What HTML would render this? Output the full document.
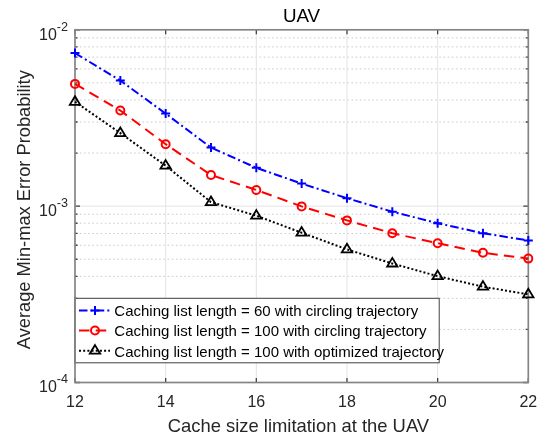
<!DOCTYPE html>
<html><head><meta charset="utf-8"><title>UAV</title>
<style>
html,body{margin:0;padding:0;background:#fff;}
svg{display:block;}
text{font-family:"Liberation Sans",Arial,Helvetica,sans-serif;fill:#262626;}
</style></head><body>
<svg width="550" height="439" viewBox="0 0 550 439">
<rect x="0" y="0" width="550" height="439" fill="#fff"/>
<path d="M75.6 153.06H527.80 M75.6 122.01H527.80 M75.6 99.98H527.80 M75.6 82.89H527.80 M75.6 68.92H527.80 M75.6 57.12H527.80 M75.6 46.89H527.80 M75.6 37.87H527.80 M75.6 329.41H527.80 M75.6 298.36H527.80 M75.6 276.33H527.80 M75.6 259.24H527.80 M75.6 245.27H527.80 M75.6 233.47H527.80 M75.6 223.24H527.80 M75.6 214.22H527.80" stroke="#cccccc" stroke-width="1" stroke-dasharray="1.6 2.58" fill="none"/>
<path d="M75.00 206.15H528.30 M165.66 29.80V382.50 M256.32 29.80V382.50 M346.98 29.80V382.50 M437.64 29.80V382.50" stroke="#e3e3e3" stroke-width="1" fill="none"/>
<path d="M75.00 382.50V378.00 M75.00 29.80V34.30 M165.66 382.50V378.00 M165.66 29.80V34.30 M256.32 382.50V378.00 M256.32 29.80V34.30 M346.98 382.50V378.00 M346.98 29.80V34.30 M437.64 382.50V378.00 M437.64 29.80V34.30 M528.30 382.50V378.00 M528.30 29.80V34.30 M75.00 29.80H80.00 M528.30 29.80H523.30 M75.00 206.15H80.00 M528.30 206.15H523.30 M75.00 382.50H80.00 M528.30 382.50H523.30 M75.00 153.06H77.60 M528.30 153.06H525.70 M75.00 122.01H77.60 M528.30 122.01H525.70 M75.00 99.98H77.60 M528.30 99.98H525.70 M75.00 82.89H77.60 M528.30 82.89H525.70 M75.00 68.92H77.60 M528.30 68.92H525.70 M75.00 57.12H77.60 M528.30 57.12H525.70 M75.00 46.89H77.60 M528.30 46.89H525.70 M75.00 37.87H77.60 M528.30 37.87H525.70 M75.00 329.41H77.60 M528.30 329.41H525.70 M75.00 298.36H77.60 M528.30 298.36H525.70 M75.00 276.33H77.60 M528.30 276.33H525.70 M75.00 259.24H77.60 M528.30 259.24H525.70 M75.00 245.27H77.60 M528.30 245.27H525.70 M75.00 233.47H77.60 M528.30 233.47H525.70 M75.00 223.24H77.60 M528.30 223.24H525.70 M75.00 214.22H77.60 M528.30 214.22H525.70" stroke="#404040" stroke-width="1.3" fill="none"/>
<rect x="75.00" y="29.80" width="453.30" height="352.70" fill="none" stroke="#858585" stroke-width="1.7"/>
<polyline points="75.00,53.10 120.33,80.50 165.66,113.60 210.99,147.60 256.32,167.80 301.65,183.60 346.98,198.20 392.31,211.70 437.64,223.20 482.97,233.20 528.30,240.50" fill="none" stroke="#0000ff" stroke-width="2" stroke-dasharray="8.5 3.1 2 3.12" stroke-linejoin="round"/>
<polyline points="75.00,83.90 120.33,110.50 165.66,144.20 210.99,175.00 256.32,190.00 301.65,206.40 346.98,220.40 392.31,233.20 437.64,243.20 482.97,252.80 528.30,258.60" fill="none" stroke="#ff0000" stroke-width="2" stroke-dasharray="10.5 6.22" stroke-linejoin="round"/>
<polyline points="75.00,101.80 120.33,133.10 165.66,165.70 210.99,202.10 256.32,215.70 301.65,232.70 346.98,249.40 392.31,263.50 437.64,276.20 482.97,286.70 528.30,294.40" fill="none" stroke="#000000" stroke-width="2" stroke-dasharray="2 2.18" stroke-linejoin="round"/>
<path d="M70.50 53.10H79.50M75.00 48.60V57.60" stroke="#0000ff" stroke-width="2" fill="none"/><path d="M115.83 80.50H124.83M120.33 76.00V85.00" stroke="#0000ff" stroke-width="2" fill="none"/><path d="M161.16 113.60H170.16M165.66 109.10V118.10" stroke="#0000ff" stroke-width="2" fill="none"/><path d="M206.49 147.60H215.49M210.99 143.10V152.10" stroke="#0000ff" stroke-width="2" fill="none"/><path d="M251.82 167.80H260.82M256.32 163.30V172.30" stroke="#0000ff" stroke-width="2" fill="none"/><path d="M297.15 183.60H306.15M301.65 179.10V188.10" stroke="#0000ff" stroke-width="2" fill="none"/><path d="M342.48 198.20H351.48M346.98 193.70V202.70" stroke="#0000ff" stroke-width="2" fill="none"/><path d="M387.81 211.70H396.81M392.31 207.20V216.20" stroke="#0000ff" stroke-width="2" fill="none"/><path d="M433.14 223.20H442.14M437.64 218.70V227.70" stroke="#0000ff" stroke-width="2" fill="none"/><path d="M478.47 233.20H487.47M482.97 228.70V237.70" stroke="#0000ff" stroke-width="2" fill="none"/><path d="M523.80 240.50H532.80M528.30 236.00V245.00" stroke="#0000ff" stroke-width="2" fill="none"/>
<circle cx="75.00" cy="83.90" r="4.0" stroke="#ff0000" stroke-width="2" fill="none"/><circle cx="120.33" cy="110.50" r="4.0" stroke="#ff0000" stroke-width="2" fill="none"/><circle cx="165.66" cy="144.20" r="4.0" stroke="#ff0000" stroke-width="2" fill="none"/><circle cx="210.99" cy="175.00" r="4.0" stroke="#ff0000" stroke-width="2" fill="none"/><circle cx="256.32" cy="190.00" r="4.0" stroke="#ff0000" stroke-width="2" fill="none"/><circle cx="301.65" cy="206.40" r="4.0" stroke="#ff0000" stroke-width="2" fill="none"/><circle cx="346.98" cy="220.40" r="4.0" stroke="#ff0000" stroke-width="2" fill="none"/><circle cx="392.31" cy="233.20" r="4.0" stroke="#ff0000" stroke-width="2" fill="none"/><circle cx="437.64" cy="243.20" r="4.0" stroke="#ff0000" stroke-width="2" fill="none"/><circle cx="482.97" cy="252.80" r="4.0" stroke="#ff0000" stroke-width="2" fill="none"/><circle cx="528.30" cy="258.60" r="4.0" stroke="#ff0000" stroke-width="2" fill="none"/>
<path d="M75.00 96.20L80.20 104.80L69.80 104.80Z" stroke="#000000" stroke-width="1.8" fill="none" stroke-linejoin="miter"/><path d="M120.33 127.50L125.53 136.10L115.13 136.10Z" stroke="#000000" stroke-width="1.8" fill="none" stroke-linejoin="miter"/><path d="M165.66 160.10L170.86 168.70L160.46 168.70Z" stroke="#000000" stroke-width="1.8" fill="none" stroke-linejoin="miter"/><path d="M210.99 196.50L216.19 205.10L205.79 205.10Z" stroke="#000000" stroke-width="1.8" fill="none" stroke-linejoin="miter"/><path d="M256.32 210.10L261.52 218.70L251.12 218.70Z" stroke="#000000" stroke-width="1.8" fill="none" stroke-linejoin="miter"/><path d="M301.65 227.10L306.85 235.70L296.45 235.70Z" stroke="#000000" stroke-width="1.8" fill="none" stroke-linejoin="miter"/><path d="M346.98 243.80L352.18 252.40L341.78 252.40Z" stroke="#000000" stroke-width="1.8" fill="none" stroke-linejoin="miter"/><path d="M392.31 257.90L397.51 266.50L387.11 266.50Z" stroke="#000000" stroke-width="1.8" fill="none" stroke-linejoin="miter"/><path d="M437.64 270.60L442.84 279.20L432.44 279.20Z" stroke="#000000" stroke-width="1.8" fill="none" stroke-linejoin="miter"/><path d="M482.97 281.10L488.17 289.70L477.77 289.70Z" stroke="#000000" stroke-width="1.8" fill="none" stroke-linejoin="miter"/><path d="M528.30 288.80L533.50 297.40L523.10 297.40Z" stroke="#000000" stroke-width="1.8" fill="none" stroke-linejoin="miter"/>
<rect x="75.00" y="298.30" width="364.20" height="64.50" fill="#fff" stroke="#404040" stroke-width="1"/>
<path d="M75.00 297.30V363.80" stroke="#858585" stroke-width="1.7" fill="none"/>
<path d="M79.0 310.4H110.0" stroke="#0000ff" stroke-width="2" stroke-dasharray="8.5 3.1 2 3.12" fill="none"/><path d="M90.50 310.40H99.50M95.00 305.90V314.90" stroke="#0000ff" stroke-width="2" fill="none"/><path d="M79.0 330.5H110.0" stroke="#ff0000" stroke-width="2" stroke-dasharray="10.5 6.22" fill="none"/><circle cx="95.00" cy="330.50" r="4.0" stroke="#ff0000" stroke-width="2" fill="none"/><path d="M79.0 350.7H110.0" stroke="#000" stroke-width="2" stroke-dasharray="2 2.18" fill="none"/><path d="M95.00 345.10L100.20 353.70L89.80 353.70Z" stroke="#000" stroke-width="1.8" fill="none" stroke-linejoin="miter"/>
<text x="114.3" y="316.30" font-size="15" fill="#000" style="fill:#000">Caching list length = 60 with circling trajectory</text>
<text x="114.3" y="336.40" font-size="15" fill="#000" style="fill:#000">Caching list length = 100 with circling trajectory</text>
<text x="114.3" y="356.60" font-size="15" fill="#000" style="fill:#000">Caching list length = 100 with optimized trajectory</text>
<text x="75.00" y="406.8" font-size="16" text-anchor="middle">12</text>
<text x="165.66" y="406.8" font-size="16" text-anchor="middle">14</text>
<text x="256.32" y="406.8" font-size="16" text-anchor="middle">16</text>
<text x="346.98" y="406.8" font-size="16" text-anchor="middle">18</text>
<text x="437.64" y="406.8" font-size="16" text-anchor="middle">20</text>
<text x="528.30" y="406.8" font-size="16" text-anchor="middle">22</text>
<text x="39.0" y="39.6" font-size="16">10<tspan dy="-9.0" font-size="12.6">-2</tspan></text>
<text x="39.0" y="215.6" font-size="16">10<tspan dy="-9.0" font-size="12.6">-3</tspan></text>
<text x="39.0" y="392.1" font-size="16">10<tspan dy="-9.0" font-size="12.6">-4</tspan></text>
<text x="301.5" y="22.3" font-size="18.8" text-anchor="middle" style="fill:#000">UAV</text>
<text x="298.4" y="432.1" font-size="18.4" text-anchor="middle">Cache size limitation at the UAV</text>
<text transform="translate(29.6 209.7) rotate(-90)" x="0" y="0" font-size="18.3" text-anchor="middle">Average Min-max Error Probability</text>
</svg>
</body></html>
